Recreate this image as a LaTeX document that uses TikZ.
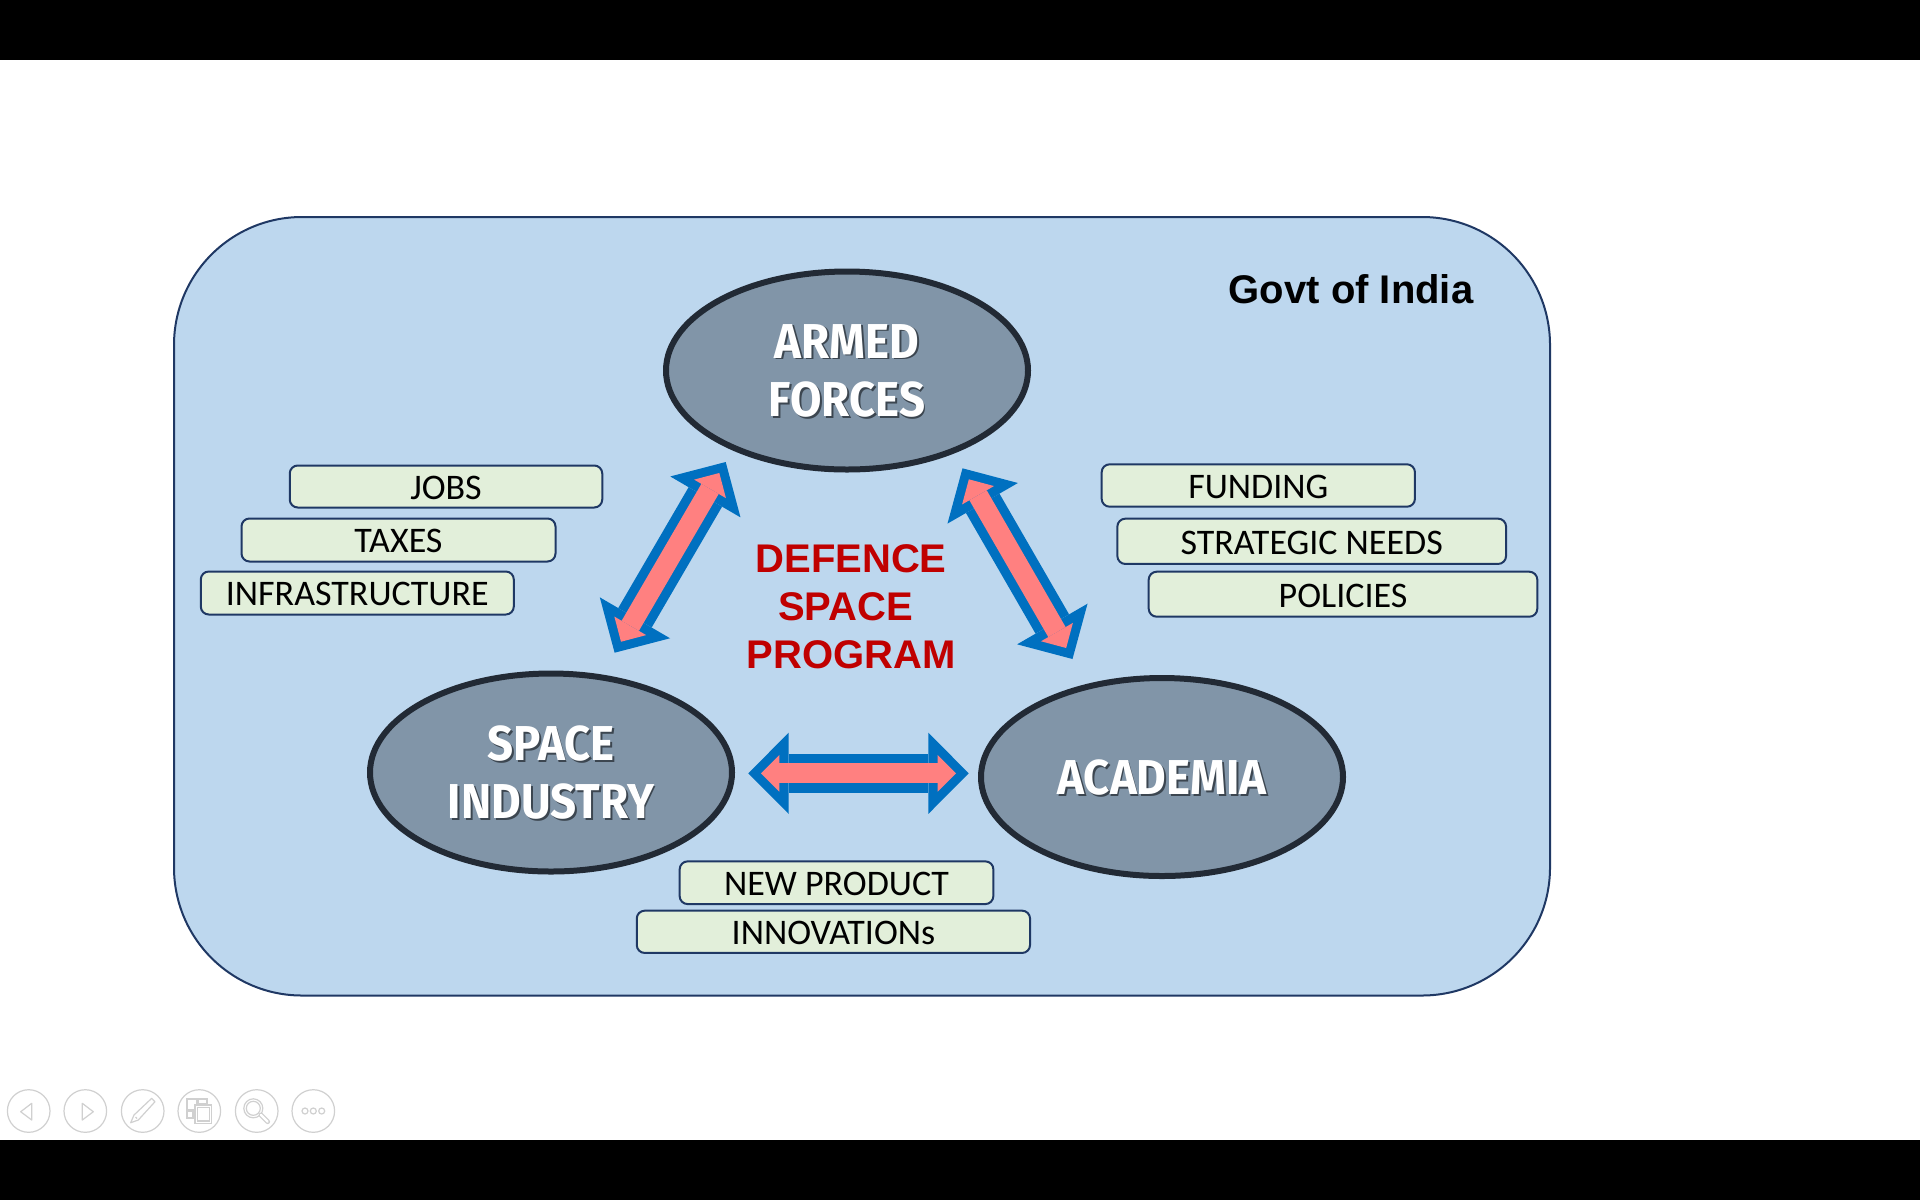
\documentclass[tikz,border=0pt]{standalone}
\usepackage{fontspec}
\usetikzlibrary{arrows.meta,shapes.geometric}
\setmainfont{Liberation Sans}
\newfontfamily\boxfont{Carlito}
\newfontfamily\headfont[FakeStretch=0.93]{Fira Sans}
\definecolor{panelfill}{HTML}{BDD7EE}
\definecolor{panelline}{HTML}{1F3864}
\definecolor{ovalfill}{HTML}{8195A8}
\definecolor{ovalline}{HTML}{222A35}
\definecolor{tagfill}{HTML}{E2EFDA}
\definecolor{arrowblue}{HTML}{0070C0}
\definecolor{arrowpink}{HTML}{FF8080}
\definecolor{titlered}{HTML}{C00000}
\definecolor{icongray}{HTML}{D0D0D0}
\definecolor{textshade}{HTML}{3C4650}
\newcommand\shtext[1]{\leavevmode\raisebox{-0.6pt}[\height][\depth]{\rlap{\kern0.9pt\raisebox{-0.9pt}{\textcolor{textshade}{#1}}}#1}}
\tikzset{
  oval/.style={ellipse,draw=ovalline,fill=ovalfill,line width=3pt,minimum width=181pt,minimum height=99pt,inner sep=0pt,
    text=white,align=center,font=\headfont\bfseries\fontsize{24.5}{29.2}\selectfont},
  tagbox/.style={draw=panelline,fill=tagfill,line width=1pt,rounded corners=4pt,inner sep=0pt,
    font=\boxfont\fontsize{18}{20}\selectfont,text=black,text height=12.8pt,text depth=0pt},
  outerarrow/.style={draw=arrowblue,line width=19.35pt,
    {Triangle[length=20.2pt,width=40.65pt,line width=0pt]}-{Triangle[length=20.2pt,width=40.65pt,line width=0pt]}},
  innerarrow/.style={draw=arrowpink,line width=10pt,shorten <=6.35pt,shorten >=6.35pt,
    {Triangle[length=9.2pt,width=18.4pt,line width=0pt]}-{Triangle[length=9.2pt,width=18.4pt,line width=0pt]}},
  icon/.style={draw=icongray,line width=0.6pt},
}
\begin{document}
\begin{tikzpicture}[x=.5pt,y=-.5pt]
\useasboundingbox (0,0) rectangle (1920,1200);
\fill[white] (0,0) rectangle (1920,1200);
\fill[black] (0,0) rectangle (1920,60);
\fill[black] (0,1140) rectangle (1920,1200);
% panel
\draw[panelline,fill=panelfill,line width=1pt,rounded corners=64pt] (174,217) rectangle (1550,995.5);
\node[font=\bfseries\fontsize{20}{24}\selectfont,text=black,anchor=center] (govt) at (1351,289) {Govt of India};
% ovals
\node[oval] (armed) at (847,370.5) {\shtext{ARMED}\\\shtext{FORCES}};
\node[oval] (industry) at (551,772.5) {\shtext{SPACE}\\\shtext{INDUSTRY}};
\node[oval] (academia) at (1162,777) {\shtext{ACADEMIA}};
% centre title
\node[font=\bfseries\fontsize{20}{24.15}\selectfont,text=titlered,align=center] (title) at (851,606.7) {DEFENCE\\\hbox{SPACE\kern5.5pt}\\PROGRAM};
% connector ends
\coordinate (la) at (725.7,462);
\coordinate (lb) at (614.6,652.7);
\coordinate (ra) at (962.5,468.3);
\coordinate (rb) at (1072.5,659);
\coordinate (ha) at (748.3,773.3);
\coordinate (hb) at (968.7,773.3);
\foreach \p/\q in {la/lb,ra/rb,ha/hb}{
  \draw[outerarrow] (\p) -- (\q);
  \draw[innerarrow] (\p) -- (\q);
}
% tags
\node[tagbox,minimum width=156.65pt,minimum height=21.2pt] (funding) at (1258.3,485.5) {FUNDING};
\node[tagbox,minimum width=194.35pt,minimum height=22.65pt] (needs) at (1311.7,541.3) {STRATEGIC NEEDS};
\node[tagbox,minimum width=194.3pt,minimum height=22.5pt] (policies) at (1343,594.2) {POLICIES};
\node[tagbox,minimum width=156.25pt,minimum height=21pt] (jobs) at (446,486.5) {JOBS};
\node[tagbox,minimum width=157pt,minimum height=21.5pt] (taxes) at (398.5,540) {TAXES};
\node[tagbox,minimum width=156.5pt,minimum height=21.5pt] (infra) at (357.3,593) {INFRASTRUCTURE};
\node[tagbox,minimum width=156.85pt,minimum height=21.35pt] (newprod) at (836.5,882.7) {NEW PRODUCT};
\node[tagbox,minimum width=196.65pt,minimum height=21.15pt] (innov) at (833.4,931.8) {INNOVATIONs};
% slide-show controls
\foreach \cx in {28.7,85.3,142.7,199.3,256.7,313.3}{\draw[icon] (\cx,1111) circle[radius=21.3];}
\draw[icon,line join=round] (20.7,1111.7) -- (31.7,1103.3) -- (31.7,1120) -- cycle;
\draw[icon,line join=round] (82.3,1103.3) -- (93.3,1111.7) -- (82.3,1120) -- cycle;
\draw[icon,line join=round] (134,1115) -- (151.7,1098.3) -- (155,1101.7) -- (138.3,1120) -- (130.7,1122.7) -- cycle;
\draw[icon] (135.5,1117) -- (137,1118.5);
\draw[icon,line width=.85pt] (187.3,1099.3) rectangle (196.7,1110);
\draw[icon,line width=.85pt] (198.3,1099.3) rectangle (207.3,1104.3);
\draw[icon,line width=.85pt] (187.3,1111) rectangle (192.7,1118.3);
\draw[icon,fill=white] (195,1105) rectangle (211.7,1123.3);
\draw[icon] (197.3,1107.7) rectangle (209.3,1121);
\draw[icon] (253.3,1108.3) circle[radius=9.5];
\draw[icon] (253.3,1108.3) circle[radius=7];
\draw[draw=icongray,line width=2.4pt,line cap=round] (261,1115) -- (267.7,1121.7);
\draw[draw=white,line width=1.1pt,line cap=round] (261,1115) -- (267.7,1121.7);
\foreach \dx in {305,313.3,321.7}{\draw[icon] (\dx,1111) circle[radius=3];}
\end{tikzpicture}
\end{document}
